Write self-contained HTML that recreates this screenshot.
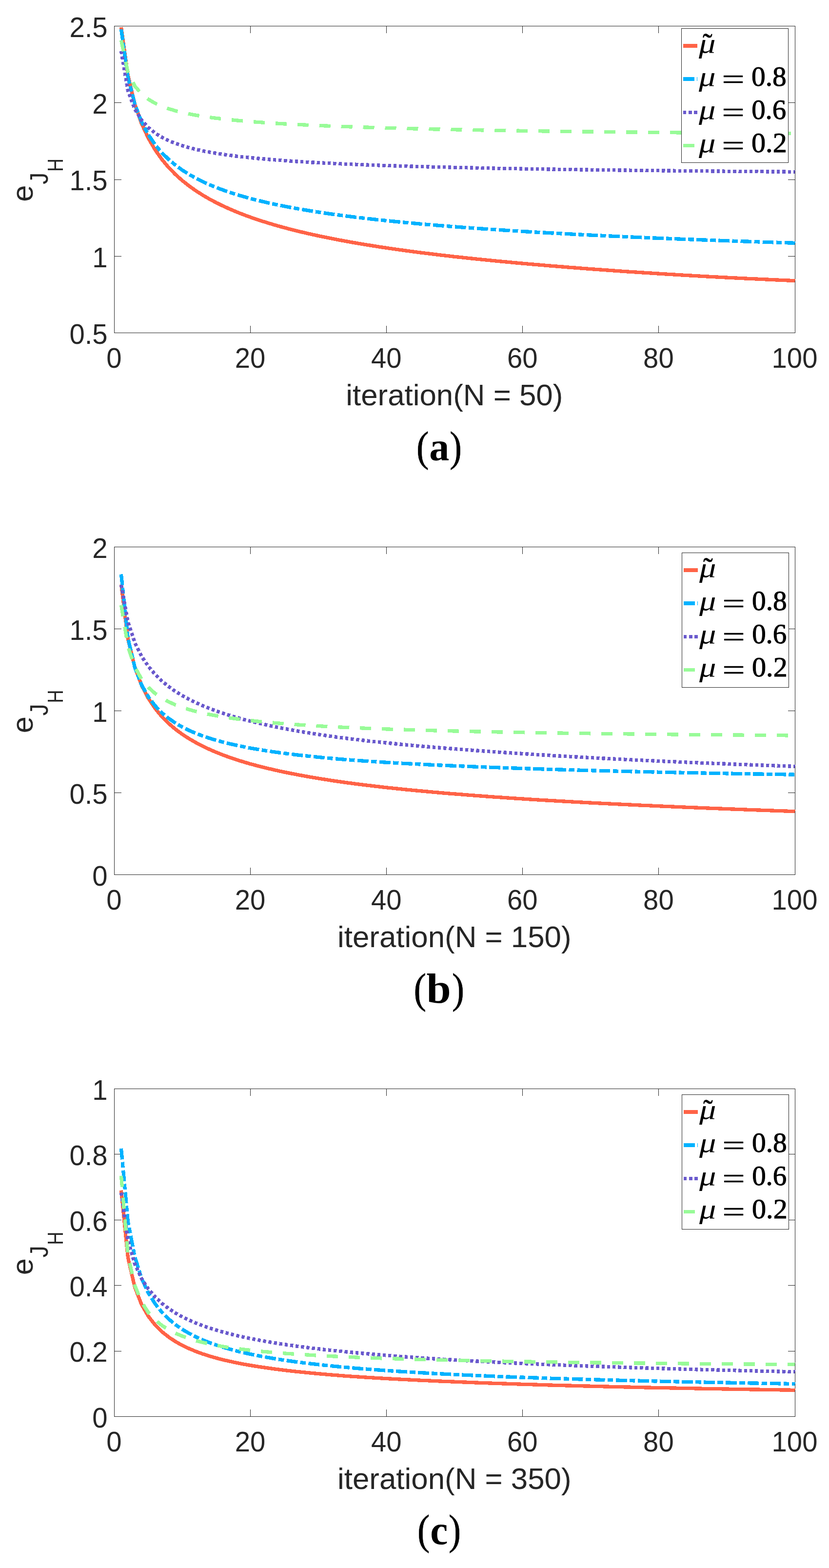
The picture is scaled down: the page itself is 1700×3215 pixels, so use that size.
<!DOCTYPE html>
<html lang="en"><head><meta charset="utf-8"><title>Figure</title>
<style>html,body{margin:0;padding:0;background:#fff}svg{display:block}.tk{font-family:"Liberation Sans",sans-serif;font-size:57px;fill:#262626}.lb{font-family:"Liberation Sans",sans-serif;fill:#262626}.capp{font-family:"Liberation Serif",serif;fill:#000}.lg{font-family:"Liberation Serif",serif;fill:#000}.ax{stroke:#262626;stroke-width:1;fill:none;shape-rendering:crispEdges}</style></head><body>
<svg width="1700" height="3215" viewBox="0 0 1700 3215">
<rect x="0" y="0" width="1700" height="3215" fill="#fff"/>
<g id="plot1">
<clipPath id="clip1"><rect x="234" y="53" width="1397" height="630"/></clipPath>
<path class="ax" d="M513.5 682.5v-15M513.5 53.5v14M792.5 682.5v-15M792.5 53.5v14M1071.5 682.5v-15M1071.5 53.5v14M1350.5 682.5v-15M1350.5 53.5v14M234.5 525.2h14M1630.5 525.2h-15M234.5 368.0h14M1630.5 368.0h-15M234.5 210.8h14M1630.5 210.8h-15"/>
<rect class="ax" x="234.5" y="53.5" width="1396" height="629"/>
<g clip-path="url(#clip1)" fill="none" stroke-width="7.3" stroke-linejoin="round" shape-rendering="crispEdges">
<polyline stroke="#FF6347" points="248.5,55.9 262.4,154.6 276.4,213.0 290.3,253.3 304.3,283.6 318.3,307.5 332.2,327.2 346.2,343.8 360.1,358.0 374.1,370.5 388.1,381.5 402.0,391.4 416.0,400.3 429.9,408.4 443.9,415.8 457.9,422.6 471.8,428.9 485.8,434.8 499.7,440.3 513.7,445.4 527.7,450.2 541.6,454.7 555.6,459.0 569.5,463.1 583.5,466.9 597.5,470.6 611.4,474.1 625.4,477.4 639.3,480.6 653.3,483.6 667.3,486.5 681.2,489.3 695.2,492.0 709.1,494.6 723.1,497.1 737.1,499.5 751.0,501.8 765.0,504.1 778.9,506.3 792.9,508.4 806.9,510.4 820.8,512.4 834.8,514.3 848.7,516.2 862.7,518.0 876.7,519.7 890.6,521.4 904.6,523.1 918.5,524.7 932.5,526.3 946.5,527.8 960.4,529.3 974.4,530.8 988.3,532.2 1002.3,533.6 1016.3,535.0 1030.2,536.3 1044.2,537.6 1058.1,538.9 1072.1,540.2 1086.1,541.4 1100.0,542.6 1114.0,543.8 1127.9,545.0 1141.9,546.1 1155.9,547.2 1169.8,548.4 1183.8,549.4 1197.7,550.5 1211.7,551.6 1225.7,552.6 1239.6,553.6 1253.6,554.6 1267.5,555.6 1281.5,556.6 1295.5,557.5 1309.4,558.4 1323.4,559.3 1337.3,560.2 1351.3,561.1 1365.3,562.0 1379.2,562.8 1393.2,563.7 1407.1,564.5 1421.1,565.3 1435.1,566.1 1449.0,566.9 1463.0,567.6 1476.9,568.4 1490.9,569.1 1504.9,569.8 1518.8,570.5 1532.8,571.2 1546.7,571.8 1560.7,572.5 1574.7,573.1 1588.6,573.8 1602.6,574.4 1616.5,575.0 1630.5,575.6"/>
<polyline stroke="#00B2FF" stroke-dasharray="22.76 5.31 11.53 5.51" points="248.5,60.0 262.4,158.7 276.4,213.4 290.3,249.8 304.3,276.4 318.3,296.9 332.2,313.5 346.2,327.2 360.1,338.9 374.1,349.0 388.1,357.8 402.0,365.6 416.0,372.6 429.9,378.9 443.9,384.6 457.9,389.8 471.8,394.7 485.8,399.1 499.7,403.2 513.7,407.1 527.7,410.6 541.6,414.0 555.6,417.2 569.5,420.1 583.5,422.9 597.5,425.6 611.4,428.1 625.4,430.5 639.3,432.8 653.3,435.0 667.3,437.1 681.2,439.1 695.2,441.0 709.1,442.8 723.1,444.6 737.1,446.3 751.0,447.9 765.0,449.5 778.9,451.0 792.9,452.5 806.9,453.9 820.8,455.3 834.8,456.6 848.7,457.9 862.7,459.2 876.7,460.4 890.6,461.6 904.6,462.7 918.5,463.8 932.5,464.9 946.5,466.0 960.4,467.0 974.4,468.1 988.3,469.0 1002.3,470.0 1016.3,470.9 1030.2,471.8 1044.2,472.7 1058.1,473.6 1072.1,474.5 1086.1,475.3 1100.0,476.1 1114.0,476.9 1127.9,477.7 1141.9,478.5 1155.9,479.2 1169.8,479.9 1183.8,480.7 1197.7,481.4 1211.7,482.1 1225.7,482.8 1239.6,483.4 1253.6,484.1 1267.5,484.7 1281.5,485.4 1295.5,486.0 1309.4,486.6 1323.4,487.2 1337.3,487.8 1351.3,488.4 1365.3,488.9 1379.2,489.5 1393.2,490.1 1407.1,490.6 1421.1,491.1 1435.1,491.7 1449.0,492.2 1463.0,492.7 1476.9,493.2 1490.9,493.7 1504.9,494.2 1518.8,494.7 1532.8,495.1 1546.7,495.6 1560.7,496.1 1574.7,496.5 1588.6,497.0 1602.6,497.4 1616.5,497.9 1630.5,498.3"/>
<polyline stroke="#6A5ACD" stroke-dasharray="6.3 4.936" points="248.5,104.6 262.4,185.9 276.4,223.7 290.3,246.4 304.3,261.7 318.3,273.0 332.2,281.6 346.2,288.5 360.1,294.1 374.1,298.8 388.1,302.8 402.0,306.3 416.0,309.4 429.9,312.0 443.9,314.4 457.9,316.6 471.8,318.5 485.8,320.3 499.7,321.9 513.7,323.4 527.7,324.8 541.6,326.0 555.6,327.2 569.5,328.3 583.5,329.3 597.5,330.3 611.4,331.2 625.4,332.1 639.3,332.9 653.3,333.6 667.3,334.3 681.2,335.0 695.2,335.7 709.1,336.3 723.1,336.9 737.1,337.4 751.0,338.0 765.0,338.5 778.9,339.0 792.9,339.5 806.9,339.9 820.8,340.3 834.8,340.8 848.7,341.2 862.7,341.6 876.7,341.9 890.6,342.3 904.6,342.6 918.5,343.0 932.5,343.3 946.5,343.6 960.4,343.9 974.4,344.2 988.3,344.5 1002.3,344.8 1016.3,345.1 1030.2,345.3 1044.2,345.6 1058.1,345.8 1072.1,346.1 1086.1,346.3 1100.0,346.5 1114.0,346.8 1127.9,347.0 1141.9,347.2 1155.9,347.4 1169.8,347.6 1183.8,347.8 1197.7,348.0 1211.7,348.2 1225.7,348.4 1239.6,348.5 1253.6,348.7 1267.5,348.9 1281.5,349.0 1295.5,349.2 1309.4,349.4 1323.4,349.5 1337.3,349.7 1351.3,349.8 1365.3,350.0 1379.2,350.1 1393.2,350.3 1407.1,350.4 1421.1,350.5 1435.1,350.7 1449.0,350.8 1463.0,350.9 1476.9,351.1 1490.9,351.2 1504.9,351.3 1518.8,351.4 1532.8,351.5 1546.7,351.7 1560.7,351.8 1574.7,351.9 1588.6,352.0 1602.6,352.1 1616.5,352.2 1630.5,352.3"/>
<polyline stroke="#98FB98" stroke-dasharray="23 22" points="248.5,82.7 262.4,148.3 276.4,176.3 290.3,192.7 304.3,203.7 318.3,211.8 332.2,218.1 346.2,223.1 360.1,227.2 374.1,230.7 388.1,233.7 402.0,236.3 416.0,238.5 429.9,240.6 443.9,242.4 457.9,244.0 471.8,245.5 485.8,246.9 499.7,248.1 513.7,249.3 527.7,250.4 541.6,251.3 555.6,252.3 569.5,253.1 583.5,254.0 597.5,254.7 611.4,255.4 625.4,256.1 639.3,256.8 653.3,257.4 667.3,258.0 681.2,258.5 695.2,259.1 709.1,259.6 723.1,260.1 737.1,260.6 751.0,261.0 765.0,261.5 778.9,261.9 792.9,262.3 806.9,262.7 820.8,263.1 834.8,263.5 848.7,263.9 862.7,264.2 876.7,264.6 890.6,264.9 904.6,265.2 918.5,265.5 932.5,265.8 946.5,266.1 960.4,266.4 974.4,266.6 988.3,266.9 1002.3,267.1 1016.3,267.4 1030.2,267.6 1044.2,267.8 1058.1,268.0 1072.1,268.3 1086.1,268.5 1100.0,268.7 1114.0,268.9 1127.9,269.0 1141.9,269.2 1155.9,269.4 1169.8,269.6 1183.8,269.8 1197.7,269.9 1211.7,270.1 1225.7,270.2 1239.6,270.4 1253.6,270.6 1267.5,270.7 1281.5,270.9 1295.5,271.0 1309.4,271.1 1323.4,271.3 1337.3,271.4 1351.3,271.6 1365.3,271.7 1379.2,271.8 1393.2,271.9 1407.1,272.1 1421.1,272.2 1435.1,272.3 1449.0,272.4 1463.0,272.5 1476.9,272.7 1490.9,272.8 1504.9,272.9 1518.8,273.0 1532.8,273.1 1546.7,273.2 1560.7,273.3 1574.7,273.4 1588.6,273.5 1602.6,273.6 1616.5,273.7 1630.5,273.8"/>
</g>
<g class="tk" text-anchor="middle">
<text transform="translate(234.0 753.5) scale(0.987 1)">0</text>
<text transform="translate(513.1 753.5) scale(0.987 1)">20</text>
<text transform="translate(792.2 753.5) scale(0.987 1)">40</text>
<text transform="translate(1071.3 753.5) scale(0.987 1)">60</text>
<text transform="translate(1350.4 753.5) scale(0.987 1)">80</text>
<text transform="translate(1629.5 753.5) scale(0.987 1)">100</text>
</g>
<g class="tk" text-anchor="end">
<text transform="translate(220.6 704.7) scale(0.987 1)">0.5</text>
<text transform="translate(220.6 547.5) scale(0.987 1)">1</text>
<text transform="translate(220.6 390.2) scale(0.987 1)">1.5</text>
<text transform="translate(220.6 232.9) scale(0.987 1)">2</text>
<text transform="translate(220.6 75.7) scale(0.987 1)">2.5</text>
</g>
<text class="lb" x="931.8" y="830.9" font-size="61.85" text-anchor="middle">iteration(N = 50)</text>
<text class="lb" transform="rotate(-90)"><tspan x="-413.65" y="67.3" font-size="61.6">e</tspan><tspan x="-377.95" y="98.4" font-size="52.5" textLength="24.41" lengthAdjust="spacingAndGlyphs">J</tspan><tspan x="-352.05" y="129.1" font-size="43.6" textLength="27.07" lengthAdjust="spacingAndGlyphs">H</tspan></text>
<g id="legend1" transform="translate(0 0)">
<rect x="1397.5" y="58.5" width="219" height="275" fill="#fff" stroke="#262626" stroke-width="1" shape-rendering="crispEdges"/>
<path d="M1401 94h29" stroke="#FF6347" stroke-width="8" fill="none" shape-rendering="crispEdges"/>
<text class="lg"><tspan x="1432.90" y="108.09" font-size="56.72" textLength="34.50" lengthAdjust="spacingAndGlyphs" font-style="italic">μ</tspan><tspan x="1441.29" y="107.78" font-size="58.0" stroke="#000" stroke-width="1">&#x303;</tspan></text>
<path d="M1401 162h23M1429 162h1" stroke="#00B2FF" stroke-width="8" fill="none" shape-rendering="crispEdges"/>
<text class="lg"><tspan x="1432.90" y="176.16" font-size="56.72" textLength="34.50" lengthAdjust="spacingAndGlyphs" font-style="italic">μ</tspan> <tspan x="1480.22" y="181.64" font-size="59.60" textLength="46.58" lengthAdjust="spacingAndGlyphs" stroke="#000" stroke-width="0.70" stroke-linejoin="round">=</tspan> <tspan x="1541.11" y="176.19" font-size="57.02" textLength="71.69" lengthAdjust="spacingAndGlyphs" stroke="#000" stroke-width="1.00" stroke-linejoin="round">0.8</tspan></text>
<path d="M1401 230.5h6M1412 230.5h7M1423 230.5h7" stroke="#6A5ACD" stroke-width="7" fill="none" shape-rendering="crispEdges"/>
<text class="lg"><tspan x="1432.90" y="244.23" font-size="56.72" textLength="34.50" lengthAdjust="spacingAndGlyphs" font-style="italic">μ</tspan> <tspan x="1480.22" y="249.71" font-size="59.60" textLength="46.58" lengthAdjust="spacingAndGlyphs" stroke="#000" stroke-width="0.70" stroke-linejoin="round">=</tspan> <tspan x="1541.13" y="244.26" font-size="57.02" textLength="71.08" lengthAdjust="spacingAndGlyphs" stroke="#000" stroke-width="1.00" stroke-linejoin="round">0.6</tspan></text>
<path d="M1401 298.5h23" stroke="#98FB98" stroke-width="7" fill="none" shape-rendering="crispEdges"/>
<text class="lg"><tspan x="1432.90" y="312.30" font-size="56.72" textLength="34.50" lengthAdjust="spacingAndGlyphs" font-style="italic">μ</tspan> <tspan x="1480.22" y="317.78" font-size="59.60" textLength="46.58" lengthAdjust="spacingAndGlyphs" stroke="#000" stroke-width="0.70" stroke-linejoin="round">=</tspan> <tspan x="1541.08" y="312.33" font-size="57.02" textLength="72.62" lengthAdjust="spacingAndGlyphs" stroke="#000" stroke-width="1.00" stroke-linejoin="round">0.2</tspan></text>
</g>
<text class="capp" id="cap1"><tspan x="853.91" y="944.62" font-size="86.33" textLength="25.46" lengthAdjust="spacingAndGlyphs" stroke="#000" stroke-width="0.70" stroke-linejoin="round">(</tspan><tspan x="880.34" y="944.49" font-size="82.32" textLength="40.99" lengthAdjust="spacingAndGlyphs" font-weight="bold">a</tspan><tspan x="922.13" y="944.62" font-size="86.33" textLength="24.59" lengthAdjust="spacingAndGlyphs" stroke="#000" stroke-width="0.70" stroke-linejoin="round">)</tspan></text>
</g>
<g id="plot2">
<clipPath id="clip2"><rect x="234" y="1121" width="1397" height="673"/></clipPath>
<path class="ax" d="M513.5 1793.5v-15M513.5 1121.5v14M792.5 1793.5v-15M792.5 1121.5v14M1071.5 1793.5v-15M1071.5 1121.5v14M1350.5 1793.5v-15M1350.5 1121.5v14M234.5 1625.5h14M1630.5 1625.5h-15M234.5 1457.5h14M1630.5 1457.5h-15M234.5 1289.5h14M1630.5 1289.5h-15"/>
<rect class="ax" x="234.5" y="1121.5" width="1396" height="672"/>
<g clip-path="url(#clip2)" fill="none" stroke-width="7.3" stroke-linejoin="round" shape-rendering="crispEdges">
<polyline stroke="#FF6347" points="248.5,1198.7 262.4,1310.3 276.4,1367.8 290.3,1405.1 304.3,1432.1 318.3,1452.9 332.2,1469.7 346.2,1483.6 360.1,1495.5 374.1,1505.8 388.1,1514.8 402.0,1522.8 416.0,1530.1 429.9,1536.7 443.9,1542.7 457.9,1548.2 471.8,1553.3 485.8,1558.0 499.7,1562.3 513.7,1566.4 527.7,1570.1 541.6,1573.7 555.6,1577.0 569.5,1580.2 583.5,1583.2 597.5,1586.0 611.4,1588.7 625.4,1591.3 639.3,1593.7 653.3,1596.1 667.3,1598.3 681.2,1600.5 695.2,1602.5 709.1,1604.5 723.1,1606.4 737.1,1608.2 751.0,1609.9 765.0,1611.6 778.9,1613.2 792.9,1614.8 806.9,1616.3 820.8,1617.7 834.8,1619.2 848.7,1620.5 862.7,1621.8 876.7,1623.1 890.6,1624.4 904.6,1625.6 918.5,1626.8 932.5,1627.9 946.5,1629.0 960.4,1630.1 974.4,1631.2 988.3,1632.2 1002.3,1633.3 1016.3,1634.3 1030.2,1635.2 1044.2,1636.2 1058.1,1637.1 1072.1,1638.0 1086.1,1638.9 1100.0,1639.8 1114.0,1640.6 1127.9,1641.4 1141.9,1642.2 1155.9,1643.0 1169.8,1643.8 1183.8,1644.6 1197.7,1645.3 1211.7,1646.1 1225.7,1646.8 1239.6,1647.5 1253.6,1648.2 1267.5,1648.9 1281.5,1649.5 1295.5,1650.2 1309.4,1650.9 1323.4,1651.5 1337.3,1652.1 1351.3,1652.8 1365.3,1653.4 1379.2,1654.0 1393.2,1654.6 1407.1,1655.2 1421.1,1655.8 1435.1,1656.3 1449.0,1656.9 1463.0,1657.5 1476.9,1658.0 1490.9,1658.6 1504.9,1659.1 1518.8,1659.6 1532.8,1660.2 1546.7,1660.7 1560.7,1661.2 1574.7,1661.7 1588.6,1662.2 1602.6,1662.7 1616.5,1663.2 1630.5,1663.6"/>
<polyline stroke="#00B2FF" stroke-dasharray="22.76 5.31 11.53 5.51" points="248.5,1177.5 262.4,1308.4 276.4,1368.3 290.3,1404.3 304.3,1429.0 318.3,1447.4 332.2,1461.7 346.2,1473.2 360.1,1482.8 374.1,1490.9 388.1,1497.8 402.0,1503.8 416.0,1509.1 429.9,1513.8 443.9,1518.0 457.9,1521.7 471.8,1525.2 485.8,1528.3 499.7,1531.2 513.7,1533.9 527.7,1536.3 541.6,1538.6 555.6,1540.8 569.5,1542.8 583.5,1544.6 597.5,1546.4 611.4,1548.1 625.4,1549.6 639.3,1551.1 653.3,1552.5 667.3,1553.9 681.2,1555.1 695.2,1556.4 709.1,1557.5 723.1,1558.6 737.1,1559.6 751.0,1560.6 765.0,1561.5 778.9,1562.4 792.9,1563.3 806.9,1564.1 820.8,1564.9 834.8,1565.7 848.7,1566.4 862.7,1567.1 876.7,1567.8 890.6,1568.5 904.6,1569.1 918.5,1569.7 932.5,1570.3 946.5,1570.9 960.4,1571.5 974.4,1572.1 988.3,1572.6 1002.3,1573.1 1016.3,1573.6 1030.2,1574.2 1044.2,1574.6 1058.1,1575.1 1072.1,1575.6 1086.1,1576.1 1100.0,1576.5 1114.0,1577.0 1127.9,1577.4 1141.9,1577.8 1155.9,1578.2 1169.8,1578.6 1183.8,1579.0 1197.7,1579.4 1211.7,1579.8 1225.7,1580.2 1239.6,1580.5 1253.6,1580.9 1267.5,1581.2 1281.5,1581.6 1295.5,1581.9 1309.4,1582.2 1323.4,1582.5 1337.3,1582.9 1351.3,1583.2 1365.3,1583.5 1379.2,1583.8 1393.2,1584.1 1407.1,1584.3 1421.1,1584.6 1435.1,1584.9 1449.0,1585.2 1463.0,1585.4 1476.9,1585.7 1490.9,1585.9 1504.9,1586.2 1518.8,1586.4 1532.8,1586.7 1546.7,1586.9 1560.7,1587.1 1574.7,1587.4 1588.6,1587.6 1602.6,1587.8 1616.5,1588.0 1630.5,1588.2"/>
<polyline stroke="#6A5ACD" stroke-dasharray="6.3 4.936" points="248.5,1199.2 262.4,1275.7 276.4,1317.5 290.3,1345.7 304.3,1366.5 318.3,1383.0 332.2,1396.5 346.2,1408.0 360.1,1417.8 374.1,1426.4 388.1,1434.0 402.0,1440.9 416.0,1447.1 429.9,1452.7 443.9,1457.9 457.9,1462.7 471.8,1467.1 485.8,1471.2 499.7,1475.1 513.7,1478.7 527.7,1482.1 541.6,1485.3 555.6,1488.4 569.5,1491.3 583.5,1494.0 597.5,1496.6 611.4,1499.1 625.4,1501.5 639.3,1503.7 653.3,1505.9 667.3,1508.0 681.2,1510.0 695.2,1511.9 709.1,1513.7 723.1,1515.5 737.1,1517.1 751.0,1518.7 765.0,1520.3 778.9,1521.8 792.9,1523.2 806.9,1524.6 820.8,1526.0 834.8,1527.3 848.7,1528.6 862.7,1529.8 876.7,1531.0 890.6,1532.2 904.6,1533.4 918.5,1534.5 932.5,1535.6 946.5,1536.6 960.4,1537.7 974.4,1538.7 988.3,1539.7 1002.3,1540.7 1016.3,1541.7 1030.2,1542.6 1044.2,1543.6 1058.1,1544.5 1072.1,1545.4 1086.1,1546.3 1100.0,1547.2 1114.0,1548.0 1127.9,1548.9 1141.9,1549.7 1155.9,1550.5 1169.8,1551.3 1183.8,1552.1 1197.7,1552.8 1211.7,1553.6 1225.7,1554.3 1239.6,1555.1 1253.6,1555.8 1267.5,1556.5 1281.5,1557.2 1295.5,1557.9 1309.4,1558.5 1323.4,1559.2 1337.3,1559.8 1351.3,1560.5 1365.3,1561.1 1379.2,1561.7 1393.2,1562.3 1407.1,1562.9 1421.1,1563.5 1435.1,1564.1 1449.0,1564.7 1463.0,1565.2 1476.9,1565.8 1490.9,1566.3 1504.9,1566.9 1518.8,1567.4 1532.8,1567.9 1546.7,1568.4 1560.7,1568.9 1574.7,1569.4 1588.6,1569.9 1602.6,1570.4 1616.5,1570.9 1630.5,1571.4"/>
<polyline stroke="#98FB98" stroke-dasharray="23 22" points="248.5,1240.9 262.4,1326.0 276.4,1367.4 290.3,1392.4 304.3,1409.5 318.3,1422.0 332.2,1431.5 346.2,1439.1 360.1,1445.4 374.1,1450.6 388.1,1455.0 402.0,1458.8 416.0,1462.1 429.9,1465.0 443.9,1467.6 457.9,1470.0 471.8,1472.1 485.8,1474.0 499.7,1475.8 513.7,1477.4 527.7,1478.9 541.6,1480.3 555.6,1481.6 569.5,1482.8 583.5,1483.9 597.5,1485.0 611.4,1486.0 625.4,1486.9 639.3,1487.8 653.3,1488.6 667.3,1489.4 681.2,1490.1 695.2,1490.8 709.1,1491.5 723.1,1492.1 737.1,1492.7 751.0,1493.3 765.0,1493.8 778.9,1494.4 792.9,1494.9 806.9,1495.4 820.8,1495.8 834.8,1496.3 848.7,1496.7 862.7,1497.1 876.7,1497.5 890.6,1497.9 904.6,1498.3 918.5,1498.6 932.5,1499.0 946.5,1499.3 960.4,1499.6 974.4,1499.9 988.3,1500.2 1002.3,1500.5 1016.3,1500.8 1030.2,1501.1 1044.2,1501.3 1058.1,1501.6 1072.1,1501.8 1086.1,1502.1 1100.0,1502.3 1114.0,1502.5 1127.9,1502.7 1141.9,1502.9 1155.9,1503.2 1169.8,1503.4 1183.8,1503.5 1197.7,1503.7 1211.7,1503.9 1225.7,1504.1 1239.6,1504.3 1253.6,1504.5 1267.5,1504.6 1281.5,1504.8 1295.5,1505.0 1309.4,1505.1 1323.4,1505.3 1337.3,1505.4 1351.3,1505.6 1365.3,1505.7 1379.2,1505.9 1393.2,1506.0 1407.1,1506.1 1421.1,1506.3 1435.1,1506.4 1449.0,1506.5 1463.0,1506.7 1476.9,1506.8 1490.9,1506.9 1504.9,1507.0 1518.8,1507.1 1532.8,1507.3 1546.7,1507.4 1560.7,1507.5 1574.7,1507.6 1588.6,1507.7 1602.6,1507.8 1616.5,1507.9 1630.5,1508.0"/>
</g>
<g class="tk" text-anchor="middle">
<text transform="translate(234.0 1864.5) scale(0.987 1)">0</text>
<text transform="translate(513.1 1864.5) scale(0.987 1)">20</text>
<text transform="translate(792.2 1864.5) scale(0.987 1)">40</text>
<text transform="translate(1071.3 1864.5) scale(0.987 1)">60</text>
<text transform="translate(1350.4 1864.5) scale(0.987 1)">80</text>
<text transform="translate(1629.5 1864.5) scale(0.987 1)">100</text>
</g>
<g class="tk" text-anchor="end">
<text transform="translate(220.6 1815.7) scale(0.987 1)">0</text>
<text transform="translate(220.6 1647.7) scale(0.987 1)">0.5</text>
<text transform="translate(220.6 1479.7) scale(0.987 1)">1</text>
<text transform="translate(220.6 1311.7) scale(0.987 1)">1.5</text>
<text transform="translate(220.6 1143.7) scale(0.987 1)">2</text>
</g>
<text class="lb" x="931.8" y="1941.9" font-size="61.85" text-anchor="middle">iteration(N = 150)</text>
<text class="lb" transform="rotate(-90)"><tspan x="-1503.15" y="67.3" font-size="61.6">e</tspan><tspan x="-1467.45" y="98.4" font-size="52.5" textLength="24.41" lengthAdjust="spacingAndGlyphs">J</tspan><tspan x="-1441.55" y="129.1" font-size="43.6" textLength="27.07" lengthAdjust="spacingAndGlyphs">H</tspan></text>
<g id="legend2" transform="translate(1 0)">
<rect x="1397.5" y="1133.5" width="219" height="276" fill="#fff" stroke="#262626" stroke-width="1" shape-rendering="crispEdges"/>
<path d="M1401 1169h29" stroke="#FF6347" stroke-width="8" fill="none" shape-rendering="crispEdges"/>
<text class="lg"><tspan x="1432.90" y="1183.09" font-size="56.72" textLength="34.50" lengthAdjust="spacingAndGlyphs" font-style="italic">μ</tspan><tspan x="1441.29" y="1182.78" font-size="58.0" stroke="#000" stroke-width="1">&#x303;</tspan></text>
<path d="M1401 1237h23M1429 1237h1" stroke="#00B2FF" stroke-width="8" fill="none" shape-rendering="crispEdges"/>
<text class="lg"><tspan x="1432.90" y="1251.16" font-size="56.72" textLength="34.50" lengthAdjust="spacingAndGlyphs" font-style="italic">μ</tspan> <tspan x="1480.22" y="1256.64" font-size="59.60" textLength="46.58" lengthAdjust="spacingAndGlyphs" stroke="#000" stroke-width="0.70" stroke-linejoin="round">=</tspan> <tspan x="1541.11" y="1251.19" font-size="57.02" textLength="71.69" lengthAdjust="spacingAndGlyphs" stroke="#000" stroke-width="1.00" stroke-linejoin="round">0.8</tspan></text>
<path d="M1401 1305.5h6M1412 1305.5h7M1423 1305.5h7" stroke="#6A5ACD" stroke-width="7" fill="none" shape-rendering="crispEdges"/>
<text class="lg"><tspan x="1432.90" y="1319.23" font-size="56.72" textLength="34.50" lengthAdjust="spacingAndGlyphs" font-style="italic">μ</tspan> <tspan x="1480.22" y="1324.71" font-size="59.60" textLength="46.58" lengthAdjust="spacingAndGlyphs" stroke="#000" stroke-width="0.70" stroke-linejoin="round">=</tspan> <tspan x="1541.13" y="1319.26" font-size="57.02" textLength="71.08" lengthAdjust="spacingAndGlyphs" stroke="#000" stroke-width="1.00" stroke-linejoin="round">0.6</tspan></text>
<path d="M1401 1373.5h23" stroke="#98FB98" stroke-width="7" fill="none" shape-rendering="crispEdges"/>
<text class="lg"><tspan x="1432.90" y="1387.30" font-size="56.72" textLength="34.50" lengthAdjust="spacingAndGlyphs" font-style="italic">μ</tspan> <tspan x="1480.22" y="1392.78" font-size="59.60" textLength="46.58" lengthAdjust="spacingAndGlyphs" stroke="#000" stroke-width="0.70" stroke-linejoin="round">=</tspan> <tspan x="1541.08" y="1387.33" font-size="57.02" textLength="72.62" lengthAdjust="spacingAndGlyphs" stroke="#000" stroke-width="1.00" stroke-linejoin="round">0.2</tspan></text>
</g>
<text class="capp" id="cap2"><tspan x="848.61" y="2055.52" font-size="86.33" textLength="25.46" lengthAdjust="spacingAndGlyphs" stroke="#000" stroke-width="0.70" stroke-linejoin="round">(</tspan><tspan x="874.44" y="2056.33" font-size="87.29" textLength="50.26" lengthAdjust="spacingAndGlyphs" font-weight="bold">b</tspan><tspan x="927.10" y="2055.52" font-size="86.33" textLength="24.98" lengthAdjust="spacingAndGlyphs" stroke="#000" stroke-width="0.70" stroke-linejoin="round">)</tspan></text>
</g>
<g id="plot3">
<clipPath id="clip3"><rect x="234" y="2232" width="1397" height="673"/></clipPath>
<path class="ax" d="M513.5 2904.5v-15M513.5 2232.5v14M792.5 2904.5v-15M792.5 2232.5v14M1071.5 2904.5v-15M1071.5 2232.5v14M1350.5 2904.5v-15M1350.5 2232.5v14M234.5 2770.1h14M1630.5 2770.1h-15M234.5 2635.7h14M1630.5 2635.7h-15M234.5 2501.3h14M1630.5 2501.3h-15M234.5 2366.9h14M1630.5 2366.9h-15"/>
<rect class="ax" x="234.5" y="2232.5" width="1396" height="672"/>
<g clip-path="url(#clip3)" fill="none" stroke-width="7.3" stroke-linejoin="round" shape-rendering="crispEdges">
<polyline stroke="#FF6347" points="248.5,2440.6 262.4,2578.7 276.4,2639.1 290.3,2674.8 304.3,2699.0 318.3,2716.8 332.2,2730.6 346.2,2741.7 360.1,2750.9 374.1,2758.7 388.1,2765.3 402.0,2771.1 416.0,2776.2 429.9,2780.6 443.9,2784.6 457.9,2788.2 471.8,2791.4 485.8,2794.4 499.7,2797.1 513.7,2799.6 527.7,2801.8 541.6,2803.9 555.6,2805.9 569.5,2807.8 583.5,2809.5 597.5,2811.1 611.4,2812.6 625.4,2814.0 639.3,2815.4 653.3,2816.7 667.3,2817.9 681.2,2819.1 695.2,2820.2 709.1,2821.3 723.1,2822.3 737.1,2823.2 751.0,2824.1 765.0,2825.0 778.9,2825.8 792.9,2826.6 806.9,2827.4 820.8,2828.1 834.8,2828.8 848.7,2829.5 862.7,2830.2 876.7,2830.8 890.6,2831.5 904.6,2832.1 918.5,2832.6 932.5,2833.2 946.5,2833.8 960.4,2834.3 974.4,2834.9 988.3,2835.4 1002.3,2835.9 1016.3,2836.4 1030.2,2836.9 1044.2,2837.3 1058.1,2837.8 1072.1,2838.3 1086.1,2838.7 1100.0,2839.1 1114.0,2839.6 1127.9,2840.0 1141.9,2840.4 1155.9,2840.8 1169.8,2841.1 1183.8,2841.5 1197.7,2841.9 1211.7,2842.2 1225.7,2842.6 1239.6,2842.9 1253.6,2843.3 1267.5,2843.6 1281.5,2843.9 1295.5,2844.2 1309.4,2844.6 1323.4,2844.9 1337.3,2845.2 1351.3,2845.4 1365.3,2845.7 1379.2,2846.0 1393.2,2846.3 1407.1,2846.6 1421.1,2846.8 1435.1,2847.1 1449.0,2847.3 1463.0,2847.6 1476.9,2847.8 1490.9,2848.1 1504.9,2848.3 1518.8,2848.6 1532.8,2848.8 1546.7,2849.0 1560.7,2849.2 1574.7,2849.5 1588.6,2849.7 1602.6,2849.9 1616.5,2850.1 1630.5,2850.3"/>
<polyline stroke="#00B2FF" stroke-dasharray="22.76 5.31 11.53 5.51" points="248.5,2354.7 262.4,2504.5 276.4,2576.9 290.3,2621.0 304.3,2651.2 318.3,2673.6 332.2,2690.9 346.2,2704.8 360.1,2716.2 374.1,2725.9 388.1,2734.1 402.0,2741.3 416.0,2747.5 429.9,2753.1 443.9,2758.0 457.9,2762.5 471.8,2766.5 485.8,2770.2 499.7,2773.5 513.7,2776.6 527.7,2779.4 541.6,2782.1 555.6,2784.5 569.5,2786.8 583.5,2789.0 597.5,2791.0 611.4,2792.9 625.4,2794.7 639.3,2796.3 653.3,2797.9 667.3,2799.4 681.2,2800.9 695.2,2802.2 709.1,2803.5 723.1,2804.8 737.1,2806.0 751.0,2807.1 765.0,2808.2 778.9,2809.2 792.9,2810.2 806.9,2811.2 820.8,2812.1 834.8,2812.9 848.7,2813.8 862.7,2814.6 876.7,2815.4 890.6,2816.2 904.6,2816.9 918.5,2817.6 932.5,2818.3 946.5,2819.0 960.4,2819.6 974.4,2820.2 988.3,2820.8 1002.3,2821.4 1016.3,2822.0 1030.2,2822.6 1044.2,2823.1 1058.1,2823.6 1072.1,2824.1 1086.1,2824.6 1100.0,2825.1 1114.0,2825.6 1127.9,2826.1 1141.9,2826.5 1155.9,2826.9 1169.8,2827.4 1183.8,2827.8 1197.7,2828.2 1211.7,2828.6 1225.7,2829.0 1239.6,2829.4 1253.6,2829.7 1267.5,2830.1 1281.5,2830.5 1295.5,2830.8 1309.4,2831.1 1323.4,2831.5 1337.3,2831.8 1351.3,2832.1 1365.3,2832.4 1379.2,2832.7 1393.2,2833.1 1407.1,2833.3 1421.1,2833.6 1435.1,2833.9 1449.0,2834.2 1463.0,2834.5 1476.9,2834.7 1490.9,2835.0 1504.9,2835.3 1518.8,2835.5 1532.8,2835.8 1546.7,2836.0 1560.7,2836.3 1574.7,2836.5 1588.6,2836.7 1602.6,2837.0 1616.5,2837.2 1630.5,2837.4"/>
<polyline stroke="#6A5ACD" stroke-dasharray="6.3 4.936" points="248.5,2445.4 262.4,2543.1 276.4,2591.2 290.3,2621.6 304.3,2643.1 318.3,2659.5 332.2,2672.6 346.2,2683.3 360.1,2692.4 374.1,2700.1 388.1,2706.9 402.0,2712.9 416.0,2718.3 429.9,2723.1 443.9,2727.4 457.9,2731.4 471.8,2735.1 485.8,2738.5 499.7,2741.6 513.7,2744.5 527.7,2747.2 541.6,2749.8 555.6,2752.2 569.5,2754.5 583.5,2756.6 597.5,2758.6 611.4,2760.5 625.4,2762.4 639.3,2764.1 653.3,2765.8 667.3,2767.4 681.2,2768.9 695.2,2770.3 709.1,2771.7 723.1,2773.1 737.1,2774.4 751.0,2775.6 765.0,2776.8 778.9,2778.0 792.9,2779.1 806.9,2780.2 820.8,2781.2 834.8,2782.2 848.7,2783.2 862.7,2784.2 876.7,2785.1 890.6,2786.0 904.6,2786.9 918.5,2787.7 932.5,2788.5 946.5,2789.3 960.4,2790.1 974.4,2790.8 988.3,2791.6 1002.3,2792.3 1016.3,2793.0 1030.2,2793.7 1044.2,2794.3 1058.1,2795.0 1072.1,2795.6 1086.1,2796.2 1100.0,2796.8 1114.0,2797.4 1127.9,2798.0 1141.9,2798.5 1155.9,2799.1 1169.8,2799.6 1183.8,2800.1 1197.7,2800.7 1211.7,2801.2 1225.7,2801.7 1239.6,2802.1 1253.6,2802.6 1267.5,2803.1 1281.5,2803.5 1295.5,2804.0 1309.4,2804.4 1323.4,2804.9 1337.3,2805.3 1351.3,2805.7 1365.3,2806.1 1379.2,2806.5 1393.2,2806.9 1407.1,2807.3 1421.1,2807.7 1435.1,2808.1 1449.0,2808.4 1463.0,2808.8 1476.9,2809.1 1490.9,2809.5 1504.9,2809.8 1518.8,2810.2 1532.8,2810.5 1546.7,2810.9 1560.7,2811.2 1574.7,2811.5 1588.6,2811.8 1602.6,2812.1 1616.5,2812.4 1630.5,2812.7"/>
<polyline stroke="#98FB98" stroke-dasharray="23 22" points="248.5,2410.7 262.4,2573.5 276.4,2635.6 290.3,2669.5 304.3,2691.2 318.3,2706.4 332.2,2717.8 346.2,2726.7 360.1,2733.8 374.1,2739.7 388.1,2744.7 402.0,2748.9 416.0,2752.5 429.9,2755.7 443.9,2758.5 457.9,2761.0 471.8,2763.2 485.8,2765.1 499.7,2766.9 513.7,2768.5 527.7,2770.0 541.6,2771.4 555.6,2772.6 569.5,2773.8 583.5,2774.9 597.5,2775.9 611.4,2776.8 625.4,2777.7 639.3,2778.5 653.3,2779.3 667.3,2780.1 681.2,2780.8 695.2,2781.4 709.1,2782.1 723.1,2782.7 737.1,2783.3 751.0,2783.8 765.0,2784.3 778.9,2784.8 792.9,2785.3 806.9,2785.8 820.8,2786.2 834.8,2786.6 848.7,2787.0 862.7,2787.4 876.7,2787.8 890.6,2788.1 904.6,2788.5 918.5,2788.8 932.5,2789.1 946.5,2789.4 960.4,2789.7 974.4,2790.0 988.3,2790.3 1002.3,2790.6 1016.3,2790.9 1030.2,2791.1 1044.2,2791.4 1058.1,2791.6 1072.1,2791.8 1086.1,2792.1 1100.0,2792.3 1114.0,2792.5 1127.9,2792.7 1141.9,2792.9 1155.9,2793.1 1169.8,2793.3 1183.8,2793.5 1197.7,2793.7 1211.7,2793.8 1225.7,2794.0 1239.6,2794.2 1253.6,2794.4 1267.5,2794.5 1281.5,2794.7 1295.5,2794.8 1309.4,2795.0 1323.4,2795.1 1337.3,2795.3 1351.3,2795.4 1365.3,2795.6 1379.2,2795.7 1393.2,2795.8 1407.1,2796.0 1421.1,2796.1 1435.1,2796.2 1449.0,2796.3 1463.0,2796.5 1476.9,2796.6 1490.9,2796.7 1504.9,2796.8 1518.8,2796.9 1532.8,2797.0 1546.7,2797.1 1560.7,2797.2 1574.7,2797.3 1588.6,2797.4 1602.6,2797.5 1616.5,2797.6 1630.5,2797.7"/>
</g>
<g class="tk" text-anchor="middle">
<text transform="translate(234.0 2975.5) scale(0.987 1)">0</text>
<text transform="translate(513.1 2975.5) scale(0.987 1)">20</text>
<text transform="translate(792.2 2975.5) scale(0.987 1)">40</text>
<text transform="translate(1071.3 2975.5) scale(0.987 1)">60</text>
<text transform="translate(1350.4 2975.5) scale(0.987 1)">80</text>
<text transform="translate(1629.5 2975.5) scale(0.987 1)">100</text>
</g>
<g class="tk" text-anchor="end">
<text transform="translate(220.6 2926.7) scale(0.987 1)">0</text>
<text transform="translate(220.6 2792.3) scale(0.987 1)">0.2</text>
<text transform="translate(220.6 2657.9) scale(0.987 1)">0.4</text>
<text transform="translate(220.6 2523.5) scale(0.987 1)">0.6</text>
<text transform="translate(220.6 2389.1) scale(0.987 1)">0.8</text>
<text transform="translate(220.6 2254.7) scale(0.987 1)">1</text>
</g>
<text class="lb" x="931.8" y="3052.9" font-size="61.85" text-anchor="middle">iteration(N = 350)</text>
<text class="lb" transform="rotate(-90)"><tspan x="-2614.15" y="67.3" font-size="61.6">e</tspan><tspan x="-2578.45" y="98.4" font-size="52.5" textLength="24.41" lengthAdjust="spacingAndGlyphs">J</tspan><tspan x="-2552.55" y="129.1" font-size="43.6" textLength="27.07" lengthAdjust="spacingAndGlyphs">H</tspan></text>
<g id="legend3" transform="translate(1 0)">
<rect x="1397.5" y="2244.5" width="219" height="276" fill="#fff" stroke="#262626" stroke-width="1" shape-rendering="crispEdges"/>
<path d="M1401 2280h29" stroke="#FF6347" stroke-width="8" fill="none" shape-rendering="crispEdges"/>
<text class="lg"><tspan x="1432.90" y="2294.09" font-size="56.72" textLength="34.50" lengthAdjust="spacingAndGlyphs" font-style="italic">μ</tspan><tspan x="1441.29" y="2293.78" font-size="58.0" stroke="#000" stroke-width="1">&#x303;</tspan></text>
<path d="M1401 2348h23M1429 2348h1" stroke="#00B2FF" stroke-width="8" fill="none" shape-rendering="crispEdges"/>
<text class="lg"><tspan x="1432.90" y="2362.16" font-size="56.72" textLength="34.50" lengthAdjust="spacingAndGlyphs" font-style="italic">μ</tspan> <tspan x="1480.22" y="2367.64" font-size="59.60" textLength="46.58" lengthAdjust="spacingAndGlyphs" stroke="#000" stroke-width="0.70" stroke-linejoin="round">=</tspan> <tspan x="1541.11" y="2362.19" font-size="57.02" textLength="71.69" lengthAdjust="spacingAndGlyphs" stroke="#000" stroke-width="1.00" stroke-linejoin="round">0.8</tspan></text>
<path d="M1401 2416.5h6M1412 2416.5h7M1423 2416.5h7" stroke="#6A5ACD" stroke-width="7" fill="none" shape-rendering="crispEdges"/>
<text class="lg"><tspan x="1432.90" y="2430.23" font-size="56.72" textLength="34.50" lengthAdjust="spacingAndGlyphs" font-style="italic">μ</tspan> <tspan x="1480.22" y="2435.71" font-size="59.60" textLength="46.58" lengthAdjust="spacingAndGlyphs" stroke="#000" stroke-width="0.70" stroke-linejoin="round">=</tspan> <tspan x="1541.13" y="2430.26" font-size="57.02" textLength="71.08" lengthAdjust="spacingAndGlyphs" stroke="#000" stroke-width="1.00" stroke-linejoin="round">0.6</tspan></text>
<path d="M1401 2484.5h23" stroke="#98FB98" stroke-width="7" fill="none" shape-rendering="crispEdges"/>
<text class="lg"><tspan x="1432.90" y="2498.30" font-size="56.72" textLength="34.50" lengthAdjust="spacingAndGlyphs" font-style="italic">μ</tspan> <tspan x="1480.22" y="2503.78" font-size="59.60" textLength="46.58" lengthAdjust="spacingAndGlyphs" stroke="#000" stroke-width="0.70" stroke-linejoin="round">=</tspan> <tspan x="1541.08" y="2498.33" font-size="57.02" textLength="72.62" lengthAdjust="spacingAndGlyphs" stroke="#000" stroke-width="1.00" stroke-linejoin="round">0.2</tspan></text>
</g>
<text class="capp" id="cap3"><tspan x="855.93" y="3165.54" font-size="86.22" textLength="25.33" lengthAdjust="spacingAndGlyphs" stroke="#000" stroke-width="0.70" stroke-linejoin="round">(</tspan><tspan x="882.15" y="3166.36" font-size="84.38" textLength="36.10" lengthAdjust="spacingAndGlyphs" font-weight="bold">c</tspan><tspan x="919.99" y="3165.54" font-size="86.22" textLength="25.10" lengthAdjust="spacingAndGlyphs" stroke="#000" stroke-width="0.70" stroke-linejoin="round">)</tspan></text>
</g>
</svg></body></html>
